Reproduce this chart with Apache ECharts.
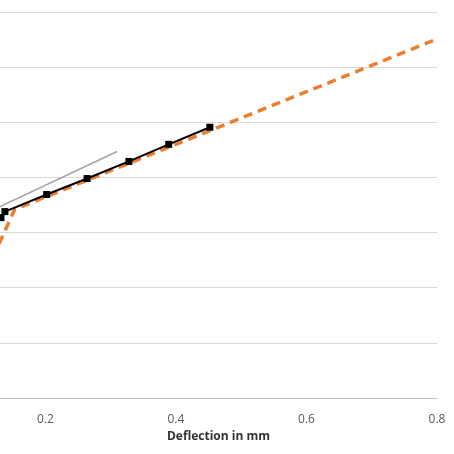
<!DOCTYPE html>
<html>
<head>
<meta charset="utf-8">
<script src="https://cdn.jsdelivr.net/npm/echarts@6/dist/echarts.min.js"></script>
<style>html,body{margin:0;padding:0;background:#fff}#chart{width:454px;height:454px}</style>
</head>
<body>
<div id="chart"></div>
<script>
// measured deflection vs load (load axis is cropped out of the picture)
var measuredX = [0.132, 0.138, 0.202, 0.264, 0.328, 0.389, 0.452];
var measuredY = [3.27, 3.38, 3.69, 3.98, 4.29, 4.60, 4.91];
var modelX = [0.11, 0.153, 0.80];
var modelY = [2.30, 3.42, 6.51];
var tangentX = [0.10, 0.31];
var tangentY = [3.30, 4.47];
var xTicks = [0.2, 0.4, 0.6, 0.8];

function pairs(xs, ys) {
    return xs.map(function (x, i) { return [x, ys[i]]; });
}

var myChart = echarts.init(document.getElementById('chart'));
var option = {
    animation: false,
    grid: { left: 0, right: 17, top: 12, bottom: 56, containLabel: false },
    xAxis: {
        type: 'value', min: 0.1305, max: 0.8,
        name: 'Deflection in mm', nameLocation: 'middle', nameGap: 32,
        nameTextStyle: { fontFamily: 'Open Sans', fontWeight: 'bold', fontSize: 12, color: '#333', padding: [0, 0, 0, 0] },
        axisLine: { lineStyle: { color: '#bfbfbf' } },
        axisTick: { show: false },
        splitLine: { show: false },
        axisLabel: { customValues: xTicks, color: '#595959', fontFamily: 'Open Sans', fontSize: 12, margin: 16 }
    },
    yAxis: {
        type: 'value', min: 0, max: 7, interval: 1,
        axisLine: { show: false }, axisTick: { show: false }, axisLabel: { show: false },
        splitLine: { lineStyle: { color: '#d9d9d9' } }
    },
    series: [
        {
            type: 'line', data: pairs(tangentX, tangentY), symbol: 'none',
            lineStyle: { color: '#a6a6a6', width: 1.5 }
        },
        {
            type: 'line', data: pairs(modelX, modelY), symbol: 'none',
            lineStyle: { color: '#ed7d31', width: 3.5, type: [9, 6] }
        },
        {
            type: 'line', data: pairs(measuredX, measuredY), symbol: 'rect', symbolSize: 7,
            itemStyle: { color: '#000' }, lineStyle: { color: '#000', width: 2 }
        }
    ]
};
myChart.setOption(option);
</script>
</body>
</html>
